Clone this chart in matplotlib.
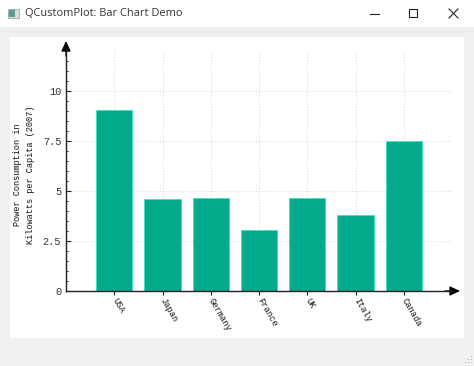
import matplotlib
matplotlib.use("Agg")
import matplotlib.pyplot as plt
from matplotlib.patches import Rectangle
from matplotlib.ticker import MultipleLocator, FuncFormatter

countries = ["USA", "Japan", "Germany", "France", "UK", "Italy", "Canada"]
positions = [1, 2, 3, 4, 5, 6, 7]
consumption = [9.03, 4.6, 4.65, 3.05, 4.65, 3.8, 7.5]
window_title = "QCustomPlot: Bar Chart Demo"
y_label = "Power Consumption in\nKilowatts per Capita (2007)"

W, H = 474, 366
fig = plt.figure(figsize=(W / 100, H / 100), dpi=100, facecolor="#f0f0f0")

# Window chrome, in pixel coordinates
bg = fig.add_axes([0, 0, 1, 1])
bg.set_xlim(0, W)
bg.set_ylim(H, 0)
bg.axis("off")
bg.add_patch(Rectangle((0, 0), W, 27, fc="white", ec="none"))
bg.add_patch(Rectangle((10, 37), 454, 301, fc="white", ec="none"))
bg.text(25, 14, window_title, family="Open Sans", fontsize=7.9, color="#333333", va="center", ha="left")
bg.add_patch(Rectangle((8, 8.5), 11, 9.5, fc="#d4dede", ec="#9aa8a8", lw=0.6))
bg.add_patch(Rectangle((9.5, 10), 6, 6.5, fc="#5f9a92", ec="none"))
bg.plot([370, 379], [13.5, 13.5], color="#222222", lw=0.8)
bg.add_patch(Rectangle((409, 9), 8, 8, fc="none", ec="#222222", lw=0.8))
bg.plot([449, 458], [9, 18], color="#222222", lw=0.8)
bg.plot([449, 458], [18, 9], color="#222222", lw=0.8)
for x0, y0 in [(471, 356), (468, 359), (471, 359), (465, 362), (468, 362), (471, 362)]:
    bg.add_patch(Rectangle((x0, y0), 1.2, 1.2, fc="#b5b5b5", ec="none"))

# Plot axes
left, right, top, bottom = 66, 452, 49, 291
ax = fig.add_axes([left / W, 1 - bottom / H, (right - left) / W, (bottom - top) / H])
ax.patch.set_alpha(0)
ax.set_xlim(0, 8)
ax.set_ylim(0, 12.1)

ax.bar(positions, consumption, width=0.75, color="#02a98a", edgecolor="#3fe0c4", linewidth=0.6, zorder=2)

ax.set_xticks(positions)
ax.set_xticklabels(countries, family="Liberation Mono", fontsize=6.3, color="#111111",
                   rotation=-60, rotation_mode="anchor", ha="left", va="center")
ax.yaxis.set_major_locator(MultipleLocator(2.5))
ax.yaxis.set_minor_locator(MultipleLocator(0.5))
ax.yaxis.set_major_formatter(FuncFormatter(lambda v, _: f"{v:g}"))
for lab in ax.get_yticklabels():
    lab.set_family("Liberation Mono")
    lab.set_fontsize(7.4)
    lab.set_color("#333333")
ax.tick_params(axis="x", direction="out", length=3, width=0.8, pad=2.5, color="#222222")
ax.tick_params(axis="y", which="major", direction="in", length=3.6, width=0.8, pad=3.5, color="#222222")
ax.tick_params(axis="y", which="minor", direction="in", length=1.6, width=0.7, color="#222222")

ax.grid(True, which="major", color="#d2d2d2", linestyle=(0, (1, 2)), linewidth=0.7, zorder=0)
ax.set_axisbelow(True)

for side in ["top", "right"]:
    ax.spines[side].set_visible(False)
ax.spines["left"].set_linewidth(1.0)
ax.spines["bottom"].set_linewidth(1.0)
ax.spines["left"].set_color("#222222")
ax.spines["bottom"].set_color("#222222")

# Arrow heads at the axis ends
arrow = dict(arrowstyle="-|>,head_length=0.6,head_width=0.28", color="black", lw=1.0, shrinkA=0, shrinkB=0)
bg.annotate("", xy=(460, 291), xytext=(445, 291), arrowprops=arrow, annotation_clip=False, zorder=5)
bg.annotate("", xy=(66, 41), xytext=(66, 56), arrowprops=arrow, annotation_clip=False, zorder=5)
bg.text(24, 175, y_label, rotation=90, family="Liberation Mono", fontsize=6.25, color="#111111",
        ha="center", va="center", ma="center", linespacing=1.55)

fig.savefig("out.png", dpi=100, facecolor=fig.get_facecolor())
